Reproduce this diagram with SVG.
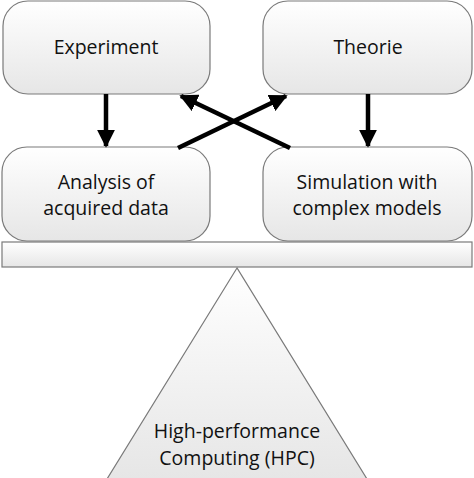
<svg xmlns="http://www.w3.org/2000/svg" width="474" height="478" viewBox="0 0 474 478">
<style>
.box{fill:url(#g);stroke:#7a7a7a;stroke-width:1.2}
.t{font-family:"Open Sans","Liberation Sans",sans-serif;font-size:19.5px;fill:#111;text-anchor:middle}
.c{stroke:#000;stroke-width:4.5;fill:none;marker-end:url(#ah)}
</style>
<defs>
<linearGradient id="g" x1="0" y1="0" x2="0" y2="1">
<stop offset="0" stop-color="#ffffff"/>
<stop offset="1" stop-color="#e6e6e6"/>
</linearGradient>
<marker id="ah" viewBox="0 0 10 10" refX="9" refY="5" markerWidth="4" markerHeight="4" orient="auto" markerUnits="strokeWidth">
<path d="M0,0 L10,5 L0,10 Z" fill="#000"/>
</marker>
</defs>
<g id="hpc">
<polygon class="box" points="237,268 107,479 367,479"/>
<text class="t" x="237" y="438">High-performance</text>
<text class="t" x="237" y="465">Computing (HPC)</text>
</g>
<g id="plank">
<rect class="box" x="2" y="242" width="470" height="25"/>
</g>
<g id="experiment">
<rect class="box" x="3" y="1" width="207" height="93" rx="25"/>
<text class="t" x="106" y="54">Experiment</text>
</g>
<g id="theorie">
<rect class="box" x="263" y="1" width="209" height="93" rx="25"/>
<text class="t" x="368" y="54">Theorie</text>
</g>
<g id="analysis">
<rect class="box" x="2" y="147" width="208" height="94" rx="25"/>
<text class="t" x="106" y="189">Analysis of</text>
<text class="t" x="106" y="215">acquired data</text>
</g>
<g id="simulation">
<rect class="box" x="263" y="147" width="209" height="94" rx="25"/>
<text class="t" x="367" y="189">Simulation with</text>
<text class="t" x="367" y="215">complex models</text>
</g>
<g id="connectors">
<line class="c" x1="106" y1="94" x2="106" y2="146"/>
<line class="c" x1="368" y1="94" x2="368" y2="146"/>
<line class="c" x1="178" y1="148" x2="286" y2="96"/>
<line class="c" x1="290" y1="148" x2="181" y2="96"/>
</g>
</svg>
